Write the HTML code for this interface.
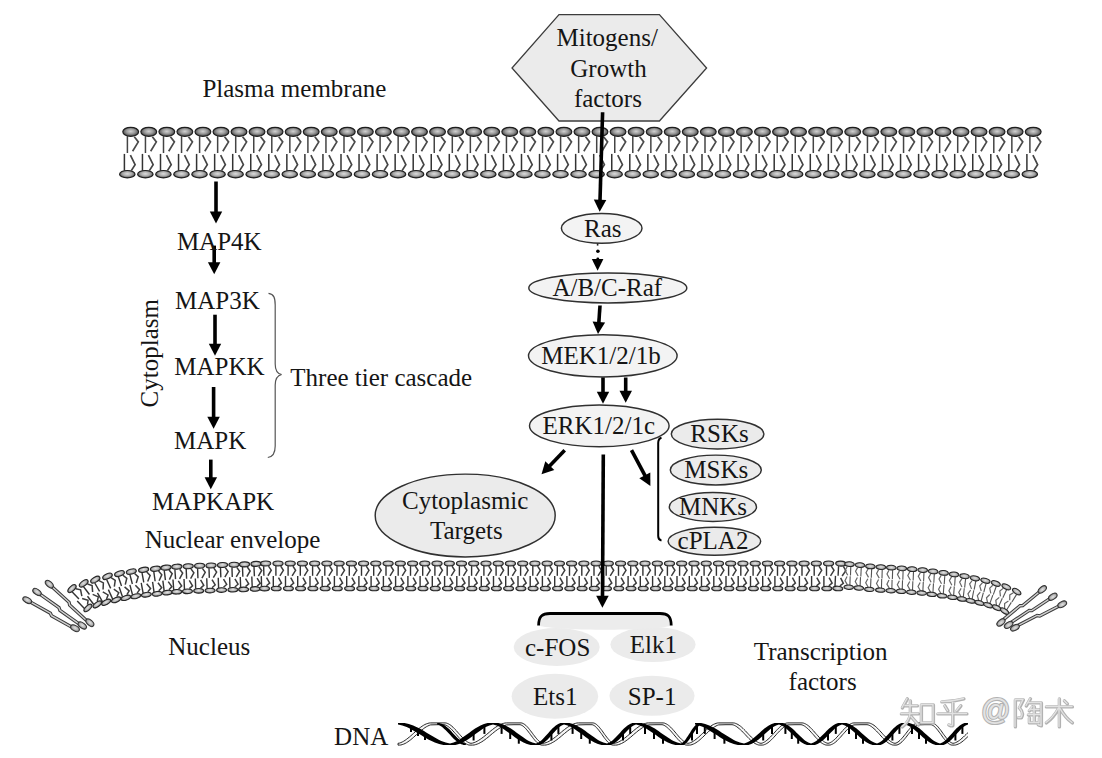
<!DOCTYPE html>
<html><head><meta charset="utf-8"><style>
html,body{margin:0;padding:0;background:#fff;width:1102px;height:758px;overflow:hidden}
svg{display:block}
</style></head><body>
<svg width="1102" height="758" viewBox="0 0 1102 758">
<rect width="1102" height="758" fill="#fff"/>
<defs>
<radialGradient id="hg" cx="50%" cy="45%" r="55%"><stop offset="0" stop-color="#d2d2d2"/><stop offset="0.5" stop-color="#9a9a9a"/><stop offset="0.85" stop-color="#5c5c5c"/><stop offset="1" stop-color="#3a3a3a"/></radialGradient><radialGradient id="hgb" cx="50%" cy="45%" r="55%"><stop offset="0" stop-color="#dedede"/><stop offset="0.55" stop-color="#a8a8a8"/><stop offset="1" stop-color="#4a4a4a"/></radialGradient>
<radialGradient id="hg2" cx="50%" cy="45%" r="55%"><stop offset="0" stop-color="#e4e4e4"/><stop offset="0.6" stop-color="#b4b4b4"/><stop offset="1" stop-color="#5a5a5a"/></radialGradient>
<g id="pl"><line x1="-3.3" y1="4.3" x2="-3.3" y2="21.2" stroke="#444" stroke-width="1.5"/><polyline points="3.6,4.9 7.6,10.1 1.9,19.5" fill="none" stroke="#4a4a4a" stroke-width="1.7"/><line x1="-6.3" y1="22.1" x2="-6.3" y2="38.8" stroke="#333" stroke-width="1.5"/><polyline points="-0.3,23.3 4.4,32.8 0.6,38.8" fill="none" stroke="#444" stroke-width="1.7"/><ellipse cx="0" cy="0" rx="7.9" ry="4.5" fill="url(#hg)" stroke="#1e1e1e" stroke-width="1.2"/><ellipse cx="-3.4" cy="42.4" rx="7.7" ry="3.7" fill="url(#hgb)" stroke="#1e1e1e" stroke-width="1.2"/></g>
<g id="nl"><line x1="-2.1" y1="2.6" x2="-2.1" y2="12.3" stroke="#333" stroke-width="1.4"/><polyline points="2.7,2.7 5.4,6.8 1.9,12.3" fill="none" stroke="#3c3c3c" stroke-width="1.5"/><line x1="-4.7" y1="12.5" x2="-4.7" y2="22.9" stroke="#333" stroke-width="1.4"/><polyline points="0.5,14.2 3.5,19.6 0.2,22.3" fill="none" stroke="#3c3c3c" stroke-width="1.5"/><ellipse cx="0" cy="0" rx="5.1" ry="2.5" fill="url(#hg2)" stroke="#262626" stroke-width="1.1"/><ellipse cx="-1.8" cy="25" rx="5.0" ry="2.3" fill="url(#hg2)" stroke="#262626" stroke-width="1.1"/></g>
<g id="nr"><line x1="1.5" y1="2.6" x2="1.5" y2="12.3" stroke="#555" stroke-width="1.2"/><polyline points="-2.5,2.9 -4.5,7 -1.5,12" fill="none" stroke="#666" stroke-width="1.3"/><line x1="1.2" y1="13" x2="1.2" y2="22.8" stroke="#555" stroke-width="1.2"/><polyline points="-2.2,13.5 -4.3,18 -1.5,22.5" fill="none" stroke="#666" stroke-width="1.3"/><ellipse cx="0" cy="0" rx="5.2" ry="2.6" fill="url(#hg2)" stroke="#262626" stroke-width="1.1"/><ellipse cx="0" cy="25" rx="5.2" ry="2.4" fill="url(#hg2)" stroke="#262626" stroke-width="1.1"/></g>
</defs>
<use href="#pl" x="130.70" y="131.8"/>
<use href="#pl" x="148.75" y="131.8"/>
<use href="#pl" x="166.80" y="131.8"/>
<use href="#pl" x="184.85" y="131.8"/>
<use href="#pl" x="202.90" y="131.8"/>
<use href="#pl" x="220.95" y="131.8"/>
<use href="#pl" x="239.00" y="131.8"/>
<use href="#pl" x="257.05" y="131.8"/>
<use href="#pl" x="275.10" y="131.8"/>
<use href="#pl" x="293.15" y="131.8"/>
<use href="#pl" x="311.20" y="131.8"/>
<use href="#pl" x="329.25" y="131.8"/>
<use href="#pl" x="347.30" y="131.8"/>
<use href="#pl" x="365.35" y="131.8"/>
<use href="#pl" x="383.40" y="131.8"/>
<use href="#pl" x="401.45" y="131.8"/>
<use href="#pl" x="419.50" y="131.8"/>
<use href="#pl" x="437.55" y="131.8"/>
<use href="#pl" x="455.60" y="131.8"/>
<use href="#pl" x="473.65" y="131.8"/>
<use href="#pl" x="491.70" y="131.8"/>
<use href="#pl" x="509.75" y="131.8"/>
<use href="#pl" x="527.80" y="131.8"/>
<use href="#pl" x="545.85" y="131.8"/>
<use href="#pl" x="563.90" y="131.8"/>
<use href="#pl" x="581.95" y="131.8"/>
<use href="#pl" x="600.00" y="131.8"/>
<use href="#pl" x="618.05" y="131.8"/>
<use href="#pl" x="636.10" y="131.8"/>
<use href="#pl" x="654.15" y="131.8"/>
<use href="#pl" x="672.20" y="131.8"/>
<use href="#pl" x="690.25" y="131.8"/>
<use href="#pl" x="708.30" y="131.8"/>
<use href="#pl" x="726.35" y="131.8"/>
<use href="#pl" x="744.40" y="131.8"/>
<use href="#pl" x="762.45" y="131.8"/>
<use href="#pl" x="780.50" y="131.8"/>
<use href="#pl" x="798.55" y="131.8"/>
<use href="#pl" x="816.60" y="131.8"/>
<use href="#pl" x="834.65" y="131.8"/>
<use href="#pl" x="852.70" y="131.8"/>
<use href="#pl" x="870.75" y="131.8"/>
<use href="#pl" x="888.80" y="131.8"/>
<use href="#pl" x="906.85" y="131.8"/>
<use href="#pl" x="924.90" y="131.8"/>
<use href="#pl" x="942.95" y="131.8"/>
<use href="#pl" x="961.00" y="131.8"/>
<use href="#pl" x="979.05" y="131.8"/>
<use href="#pl" x="997.10" y="131.8"/>
<use href="#pl" x="1015.15" y="131.8"/>
<use href="#pl" x="1033.20" y="131.8"/>
<use href="#nl" transform="translate(72.0,588.6) rotate(-43.6) scale(1.0)"/>
<use href="#nl" transform="translate(83.7,583.4) rotate(-37.1) scale(1.0)"/>
<use href="#nl" transform="translate(95.3,579.7) rotate(-29.8) scale(1.0)"/>
<use href="#nl" transform="translate(107.5,576.3) rotate(-24.4) scale(1.0)"/>
<use href="#nl" transform="translate(119.5,573.6) rotate(-18.9) scale(1.0)"/>
<use href="#nl" transform="translate(131.3,571.6) rotate(-14.6) scale(1.0)"/>
<use href="#nl" transform="translate(143.6,569.8) rotate(-10.4) scale(1.0)"/>
<use href="#nl" transform="translate(155.5,568.8) rotate(-8.0) scale(1.0)"/>
<use href="#nl" transform="translate(166.0,567.6) rotate(-7.0) scale(1.0)"/>
<use href="#nl" transform="translate(176.8,566.7) rotate(-4.0) scale(1.0)"/>
<use href="#nl" transform="translate(188.2,566.3) rotate(-2.4) scale(1.0)"/>
<use href="#nl" transform="translate(199.6,565.8) rotate(-2.0) scale(1.0)"/>
<use href="#nl" transform="translate(211.0,565.5) rotate(-2.0) scale(1.0)"/>
<use href="#nl" transform="translate(222.5,565.0) rotate(-2.0) scale(1.0)"/>
<use href="#nl" transform="translate(234.0,564.7) rotate(-1.6) scale(1.0)"/>
<use href="#nl" transform="translate(244.5,564.4) rotate(-2.1) scale(1.0)"/>
<use href="#nl" transform="translate(256.0,563.9) rotate(-2.3) scale(1.0)"/>
<use href="#nl" transform="translate(265.7,563.5) rotate(-1.4) scale(1.0)"/>
<use href="#nl" transform="translate(278.0,563.5) rotate(0.0) scale(1.0)"/>
<use href="#nl" transform="translate(290.2,563.5) rotate(0.0) scale(1.0)"/>
<use href="#nl" transform="translate(302.4,563.5) rotate(0.0) scale(1.0)"/>
<use href="#nl" transform="translate(314.7,563.5) rotate(0.0) scale(1.0)"/>
<use href="#nl" transform="translate(326.9,563.5) rotate(0.0) scale(1.0)"/>
<use href="#nl" transform="translate(339.1,563.5) rotate(0.0) scale(1.0)"/>
<use href="#nl" transform="translate(351.4,563.5) rotate(0.0) scale(1.0)"/>
<use href="#nl" transform="translate(363.6,563.5) rotate(0.0) scale(1.0)"/>
<use href="#nl" transform="translate(375.8,563.5) rotate(0.0) scale(1.0)"/>
<use href="#nl" transform="translate(388.1,563.5) rotate(0.0) scale(1.0)"/>
<use href="#nl" transform="translate(400.3,563.5) rotate(0.0) scale(1.0)"/>
<use href="#nl" transform="translate(412.6,563.5) rotate(0.0) scale(1.0)"/>
<use href="#nl" transform="translate(424.8,563.5) rotate(0.0) scale(1.0)"/>
<use href="#nl" transform="translate(437.0,563.5) rotate(0.0) scale(1.0)"/>
<use href="#nl" transform="translate(449.3,563.5) rotate(0.0) scale(1.0)"/>
<use href="#nl" transform="translate(461.5,563.5) rotate(0.0) scale(1.0)"/>
<use href="#nl" transform="translate(473.7,563.5) rotate(0.0) scale(1.0)"/>
<use href="#nl" transform="translate(486.0,563.5) rotate(0.0) scale(1.0)"/>
<use href="#nl" transform="translate(498.2,563.5) rotate(0.0) scale(1.0)"/>
<use href="#nl" transform="translate(510.4,563.5) rotate(0.0) scale(1.0)"/>
<use href="#nl" transform="translate(522.7,563.5) rotate(0.0) scale(1.0)"/>
<use href="#nl" transform="translate(534.9,563.5) rotate(0.0) scale(1.0)"/>
<use href="#nl" transform="translate(547.1,563.5) rotate(0.0) scale(1.0)"/>
<use href="#nl" transform="translate(559.4,563.5) rotate(0.0) scale(1.0)"/>
<use href="#nl" transform="translate(571.6,563.5) rotate(0.0) scale(1.0)"/>
<use href="#nl" transform="translate(583.9,563.5) rotate(0.0) scale(1.0)"/>
<use href="#nl" transform="translate(596.1,563.5) rotate(0.0) scale(1.0)"/>
<use href="#nl" transform="translate(608.3,563.5) rotate(0.0) scale(1.0)"/>
<use href="#nl" transform="translate(620.6,563.5) rotate(0.0) scale(1.0)"/>
<use href="#nl" transform="translate(632.8,563.5) rotate(0.0) scale(1.0)"/>
<use href="#nl" transform="translate(645.0,563.5) rotate(0.0) scale(1.0)"/>
<use href="#nl" transform="translate(657.3,563.5) rotate(0.0) scale(1.0)"/>
<use href="#nl" transform="translate(669.5,563.5) rotate(0.0) scale(1.0)"/>
<use href="#nl" transform="translate(681.7,563.5) rotate(0.0) scale(1.0)"/>
<use href="#nl" transform="translate(694.0,563.5) rotate(0.0) scale(1.0)"/>
<use href="#nl" transform="translate(706.2,563.5) rotate(0.0) scale(1.0)"/>
<use href="#nl" transform="translate(718.5,563.5) rotate(0.0) scale(1.0)"/>
<use href="#nl" transform="translate(730.7,563.5) rotate(0.0) scale(1.0)"/>
<use href="#nl" transform="translate(742.9,563.5) rotate(0.0) scale(1.0)"/>
<use href="#nl" transform="translate(755.2,563.5) rotate(0.0) scale(1.0)"/>
<use href="#nl" transform="translate(767.4,563.5) rotate(0.0) scale(1.0)"/>
<use href="#nl" transform="translate(779.6,563.5) rotate(0.0) scale(1.0)"/>
<use href="#nl" transform="translate(791.9,563.5) rotate(0.0) scale(1.0)"/>
<use href="#nl" transform="translate(804.1,563.5) rotate(0.0) scale(1.0)"/>
<use href="#nl" transform="translate(816.3,563.5) rotate(0.0) scale(1.0)"/>
<use href="#nl" transform="translate(828.6,563.5) rotate(0.0) scale(1.0)"/>
<use href="#nl" transform="translate(840.8,563.6) rotate(2.8) scale(1.0)"/>
<use href="#nr" transform="translate(849.5,564.2) rotate(2.0) scale(0.92)"/>
<use href="#nr" transform="translate(860.0,565.1) rotate(2.8) scale(0.92)"/>
<use href="#nr" transform="translate(870.4,566.4) rotate(2.6) scale(0.92)"/>
<use href="#nr" transform="translate(880.9,567.1) rotate(1.5) scale(0.92)"/>
<use href="#nr" transform="translate(891.3,567.7) rotate(1.5) scale(0.92)"/>
<use href="#nr" transform="translate(901.8,568.3) rotate(1.8) scale(0.92)"/>
<use href="#nr" transform="translate(912.2,569.2) rotate(2.2) scale(0.92)"/>
<use href="#nr" transform="translate(922.7,570.1) rotate(2.5) scale(0.92)"/>
<use href="#nr" transform="translate(933.1,571.4) rotate(3.4) scale(0.92)"/>
<use href="#nr" transform="translate(943.6,572.9) rotate(3.7) scale(0.92)"/>
<use href="#nr" transform="translate(954.0,574.4) rotate(3.9) scale(0.92)"/>
<use href="#nr" transform="translate(964.5,576.2) rotate(6.3) scale(0.92)"/>
<use href="#nr" transform="translate(974.9,578.3) rotate(10.6) scale(0.92)"/>
<use href="#nr" transform="translate(985.4,580.7) rotate(14.9) scale(0.92)"/>
<use href="#nr" transform="translate(995.8,583.5) rotate(19.6) scale(0.92)"/>
<use href="#nr" transform="translate(1006.3,586.9) rotate(24.6) scale(0.92)"/>
<use href="#nr" transform="translate(1016.7,591.6) rotate(31.8) scale(0.92)"/>
<g transform="translate(27.2,600.2) rotate(29.4)"><path d="M4,0 L26.6,0 L28.8,1.6 L51.4,1.6" fill="none" stroke="#3a3a3a" stroke-width="3.4"/><path d="M4,0 L26.6,0 L28.8,1.6 L51.4,1.6" fill="none" stroke="#d0d0d0" stroke-width="1.4"/><ellipse cx="0" cy="0" rx="4.8" ry="2.7" fill="url(#hg2)" stroke="#333" stroke-width="1"/><ellipse cx="55.4" cy="1" rx="4.8" ry="2.7" fill="url(#hg2)" stroke="#333" stroke-width="1"/></g>
<g transform="translate(37,592) rotate(35.5)"><path d="M4,0 L27.0,0 L29.3,1.6 L52.3,1.6" fill="none" stroke="#3a3a3a" stroke-width="3.4"/><path d="M4,0 L27.0,0 L29.3,1.6 L52.3,1.6" fill="none" stroke="#d0d0d0" stroke-width="1.4"/><ellipse cx="0" cy="0" rx="4.8" ry="2.7" fill="url(#hg2)" stroke="#333" stroke-width="1"/><ellipse cx="56.3" cy="1" rx="4.8" ry="2.7" fill="url(#hg2)" stroke="#333" stroke-width="1"/></g>
<g transform="translate(49.3,584.2) rotate(42.5)"><path d="M4,0 L26.8,0 L29.1,1.6 L51.9,1.6" fill="none" stroke="#3a3a3a" stroke-width="3.4"/><path d="M4,0 L26.8,0 L29.1,1.6 L51.9,1.6" fill="none" stroke="#d0d0d0" stroke-width="1.4"/><ellipse cx="0" cy="0" rx="4.8" ry="2.7" fill="url(#hg2)" stroke="#333" stroke-width="1"/><ellipse cx="55.9" cy="1" rx="4.8" ry="2.7" fill="url(#hg2)" stroke="#333" stroke-width="1"/></g>
<g transform="translate(1042.3,589.4) rotate(140.3)"><path d="M4,0 L25.4,0 L27.5,1.6 L48.9,1.6" fill="none" stroke="#3a3a3a" stroke-width="3.4"/><path d="M4,0 L25.4,0 L27.5,1.6 L48.9,1.6" fill="none" stroke="#d0d0d0" stroke-width="1.4"/><ellipse cx="0" cy="0" rx="4.8" ry="2.7" fill="url(#hg2)" stroke="#333" stroke-width="1"/><ellipse cx="52.9" cy="1" rx="4.8" ry="2.7" fill="url(#hg2)" stroke="#333" stroke-width="1"/></g>
<g transform="translate(1052.8,596.7) rotate(146.4)"><path d="M4,0 L25.1,0 L27.2,1.6 L48.4,1.6" fill="none" stroke="#3a3a3a" stroke-width="3.4"/><path d="M4,0 L25.1,0 L27.2,1.6 L48.4,1.6" fill="none" stroke="#d0d0d0" stroke-width="1.4"/><ellipse cx="0" cy="0" rx="4.8" ry="2.7" fill="url(#hg2)" stroke="#333" stroke-width="1"/><ellipse cx="52.4" cy="1" rx="4.8" ry="2.7" fill="url(#hg2)" stroke="#333" stroke-width="1"/></g>
<g transform="translate(1062.2,604.3) rotate(152.6)"><path d="M4,0 L25.3,0 L27.4,1.6 L48.7,1.6" fill="none" stroke="#3a3a3a" stroke-width="3.4"/><path d="M4,0 L25.3,0 L27.4,1.6 L48.7,1.6" fill="none" stroke="#d0d0d0" stroke-width="1.4"/><ellipse cx="0" cy="0" rx="4.8" ry="2.7" fill="url(#hg2)" stroke="#333" stroke-width="1"/><ellipse cx="52.7" cy="1" rx="4.8" ry="2.7" fill="url(#hg2)" stroke="#333" stroke-width="1"/></g>
<polygon points="559,14.6 659.4,14.6 706.6,68 659.4,121 559,121 512,68" fill="#ebebeb" stroke="#3c3c3c" stroke-width="1.3"/>
<ellipse cx="601.7" cy="228.3" rx="40.3" ry="14.9" fill="#f3f3f3" stroke="#303030" stroke-width="1.45"/>
<ellipse cx="607.8" cy="287.9" rx="79" ry="15" fill="#f3f3f3" stroke="#303030" stroke-width="1.45"/>
<ellipse cx="602.8" cy="355.8" rx="74.3" ry="21.1" fill="#f3f3f3" stroke="#303030" stroke-width="1.45"/>
<ellipse cx="599.3" cy="425.8" rx="69.8" ry="20.9" fill="#f3f3f3" stroke="#303030" stroke-width="1.45"/>
<ellipse cx="717.6" cy="434.1" rx="46.3" ry="14.9" fill="#ebebeb" stroke="#303030" stroke-width="1.45"/>
<ellipse cx="715.8" cy="470" rx="45.5" ry="14.9" fill="#ebebeb" stroke="#303030" stroke-width="1.45"/>
<ellipse cx="712.9" cy="506.9" rx="43.6" ry="14.5" fill="#ebebeb" stroke="#303030" stroke-width="1.45"/>
<ellipse cx="714.4" cy="541.3" rx="46.3" ry="14.0" fill="#ebebeb" stroke="#303030" stroke-width="1.45"/>
<ellipse cx="465.2" cy="515.5" rx="90" ry="41.4" fill="#ebebeb" stroke="#303030" stroke-width="1.45"/>
<ellipse cx="556.7" cy="647" rx="43" ry="19" fill="#ebebeb" />
<ellipse cx="653" cy="644.5" rx="42.6" ry="17.5" fill="#ebebeb" />
<ellipse cx="554.9" cy="696.3" rx="43.3" ry="22.5" fill="#ebebeb" />
<ellipse cx="652" cy="695.8" rx="42.6" ry="20" fill="#ebebeb" />
<line x1="602.6" y1="112.2" x2="600.0" y2="200.7" stroke="#000" stroke-width="3.6"/>
<polygon points="599.7,211.7 593.8,199.5 606.3,199.9" fill="#000"/>
<line x1="216.0" y1="181.5" x2="216.0" y2="212.4" stroke="#000" stroke-width="3.6"/>
<polygon points="216.0,223.4 209.8,211.4 222.2,211.4" fill="#000"/>
<line x1="214.2" y1="245.6" x2="214.2" y2="263.2" stroke="#000" stroke-width="3.6"/>
<polygon points="214.2,274.2 207.9,262.2 220.4,262.2" fill="#000"/>
<line x1="215.0" y1="314.7" x2="215.0" y2="344.7" stroke="#000" stroke-width="3.6"/>
<polygon points="215.0,355.7 208.8,343.7 221.2,343.7" fill="#000"/>
<line x1="213.6" y1="387.0" x2="213.6" y2="417.7" stroke="#000" stroke-width="3.6"/>
<polygon points="213.6,428.7 207.3,416.7 219.8,416.7" fill="#000"/>
<line x1="210.8" y1="459.6" x2="210.8" y2="478.3" stroke="#000" stroke-width="3.6"/>
<polygon points="210.8,489.3 204.6,477.3 217.1,477.3" fill="#000"/>
<circle cx="597.9" cy="251.3" r="1.8" fill="#000"/><circle cx="597.8" cy="258.8" r="1.4" fill="#000"/><line x1="597.6" y1="243.4" x2="597.6" y2="245.6" stroke="#222" stroke-width="1.6"/>
<polygon points="597.6,270.8 591.8,259 603.4,259" fill="#000"/>
<line x1="600.0" y1="305.5" x2="598.8" y2="323.0" stroke="#000" stroke-width="3.6"/>
<polygon points="598.0,334.0 592.6,321.6 605.1,322.5" fill="#000"/>
<line x1="603.0" y1="377.5" x2="603.0" y2="392.8" stroke="#000" stroke-width="3.6"/>
<polygon points="603.0,403.8 596.8,391.8 609.2,391.8" fill="#000"/>
<line x1="625.7" y1="377.5" x2="625.7" y2="391.8" stroke="#000" stroke-width="3.6"/>
<polygon points="625.7,402.8 619.5,390.8 632.0,390.8" fill="#000"/>
<line x1="564.7" y1="450.2" x2="549.1" y2="466.4" stroke="#000" stroke-width="3.6"/>
<polygon points="541.5,474.3 545.3,461.3 554.3,470.0" fill="#000"/>
<line x1="631.5" y1="450.2" x2="645.3" y2="476.2" stroke="#000" stroke-width="3.6"/>
<polygon points="650.4,485.9 639.3,478.2 650.3,472.4" fill="#000"/>
<line x1="603.3" y1="454.5" x2="602.5" y2="596.8" stroke="#000" stroke-width="3.6"/>
<polygon points="602.4,607.8 596.2,595.8 608.7,595.8" fill="#000"/>
<path d="M268.5,293.4 C274,294.2 275.2,298 275.2,305 L275.2,364 C275.2,371 277.5,373.8 281.6,374.5 C277.5,375.5 275.2,378 275.2,385 L275.2,446 C275.2,453 273,456.8 267.8,457.5" fill="none" stroke="#555" stroke-width="1.2"/>
<path d="M661.5,437.8 C659,438.5 658.2,440 658.2,443 L658.2,536 C658.2,539 659,540 661.5,540.6" fill="none" stroke="#000" stroke-width="2"/>
<path d="M540,626 C540,617 543,614.5 551,614.5 L659,614.5 C667,614.5 670,617 670,626 C645,631 565,631 540,626 Z" fill="#ececec"/>
<path d="M538.6,625.5 C538.6,616.5 542,613.5 550,613.5 L660,613.5 C668,613.5 671.2,616.5 671.2,625.5" fill="none" stroke="#000" stroke-width="2.8"/>
<clipPath id="dclip"><rect x="396" y="700" width="572" height="55"/></clipPath>
<g clip-path="url(#dclip)">
<path d="M398.0,743.3 L399.4,743.1 L400.8,742.6 L402.2,742.0 L403.7,741.2 L405.1,740.3 L406.5,739.3 L407.9,738.2 L409.3,737.1 L410.8,735.8 L412.2,734.6 L413.6,733.3 L415.0,732.0 L416.4,730.7 L417.8,729.5 L419.2,728.3 L420.7,727.2 L422.1,726.2 L423.5,725.3 L424.9,724.5 L426.3,723.9 L427.8,723.4 L429.2,723.0 L430.6,722.9 L438.0,722.9 L439.0,722.9 L440.0,722.9 L441.0,722.9 L442.0,722.9 L443.0,722.9 L444.0,722.9 L445.1,722.9 L446.2,723.0 L447.4,723.4 L448.5,723.9 L449.6,724.5 L450.8,725.3 L451.9,726.2 L453.0,727.2 L454.1,728.3 L455.2,729.5 L456.4,730.7 L457.5,732.0 L458.6,733.3 L459.8,734.6 L460.9,735.8 L462.0,737.1 L463.1,738.2 L464.2,739.3 L465.4,740.3 L466.5,741.2 L467.6,742.0 L468.8,742.6 L469.9,743.1 L471.0,743.3 L472.5,743.1 L474.1,742.6 L475.6,742.0 L477.2,741.2 L478.7,740.3 L480.2,739.3 L481.8,738.2 L483.3,737.1 L484.9,735.8 L486.4,734.6 L488.0,733.3 L489.5,732.0 L491.0,730.7 L492.6,729.5 L494.1,728.3 L495.7,727.2 L497.2,726.2 L498.8,725.3 L500.3,724.5 L501.8,723.9 L503.4,723.4 L504.9,723.0 L506.5,722.9 L514.0,722.9 L515.0,722.9 L516.0,722.9 L517.0,722.9 L518.0,722.9 L519.0,722.9 L520.0,722.9 L521.0,722.9 L521.9,723.0 L522.9,723.4 L523.8,723.9 L524.8,724.5 L525.8,725.3 L526.7,726.2 L527.7,727.2 L528.6,728.3 L529.6,729.5 L530.5,730.7 L531.5,732.0 L532.5,733.3 L533.4,734.6 L534.4,735.8 L535.3,737.1 L536.3,738.2 L537.2,739.3 L538.2,740.3 L539.2,741.2 L540.1,742.0 L541.1,742.6 L542.0,743.1 L543.0,743.3 L544.5,743.1 L546.1,742.6 L547.6,742.0 L549.2,741.2 L550.7,740.3 L552.2,739.3 L553.8,738.2 L555.3,737.1 L556.9,735.8 L558.4,734.6 L560.0,733.3 L561.5,732.0 L563.0,730.7 L564.6,729.5 L566.1,728.3 L567.7,727.2 L569.2,726.2 L570.8,725.3 L572.3,724.5 L573.8,723.9 L575.4,723.4 L576.9,723.0 L578.5,722.9 L586.0,722.9 L587.0,722.9 L588.0,722.9 L589.0,722.9 L590.0,722.9 L591.0,722.9 L592.0,722.9 L592.9,722.9 L593.8,723.0 L594.8,723.4 L595.7,723.9 L596.6,724.5 L597.5,725.3 L598.4,726.2 L599.3,727.2 L600.2,728.3 L601.2,729.5 L602.1,730.7 L603.0,732.0 L603.9,733.3 L604.8,734.6 L605.8,735.8 L606.7,737.1 L607.6,738.2 L608.5,739.3 L609.4,740.3 L610.3,741.2 L611.2,742.0 L612.2,742.6 L613.1,743.1 L614.0,743.3 L615.5,743.1 L617.0,742.6 L618.5,742.0 L620.0,741.2 L621.5,740.3 L623.0,739.3 L624.5,738.2 L626.0,737.1 L627.5,735.8 L629.0,734.6 L630.5,733.3 L632.0,732.0 L633.5,730.7 L635.0,729.5 L636.5,728.3 L638.0,727.2 L639.5,726.2 L641.0,725.3 L642.5,724.5 L644.0,723.9 L645.5,723.4 L647.0,723.0 L648.5,722.9 L656.0,722.9 L657.0,722.9 L658.0,722.9 L659.0,722.9 L660.0,722.9 L661.0,722.9 L662.0,722.9 L663.1,722.9 L664.2,723.0 L665.2,723.4 L666.3,723.9 L667.4,724.5 L668.5,725.3 L669.6,726.2 L670.7,727.2 L671.8,728.3 L672.8,729.5 L673.9,730.7 L675.0,732.0 L676.1,733.3 L677.2,734.6 L678.2,735.8 L679.3,737.1 L680.4,738.2 L681.5,739.3 L682.6,740.3 L683.7,741.2 L684.8,742.0 L685.8,742.6 L686.9,743.1 L688.0,743.3 L689.3,743.1 L690.7,742.6 L692.0,742.0 L693.3,741.2 L694.7,740.3 L696.0,739.3 L697.3,738.2 L698.7,737.1 L700.0,735.8 L701.3,734.6 L702.7,733.3 L704.0,732.0 L705.3,730.7 L706.7,729.5 L708.0,728.3 L709.3,727.2 L710.7,726.2 L712.0,725.3 L713.3,724.5 L714.7,723.9 L716.0,723.4 L717.3,723.0 L718.7,722.9 L726.0,722.9 L727.0,722.9 L728.0,722.9 L729.0,722.9 L730.0,722.9 L731.0,722.9 L732.0,722.9 L733.2,722.9 L734.4,723.0 L735.6,723.4 L736.8,723.9 L738.0,724.5 L739.2,725.3 L740.5,726.2 L741.7,727.2 L742.9,728.3 L744.1,729.5 L745.3,730.7 L746.5,732.0 L747.7,733.3 L748.9,734.6 L750.1,735.8 L751.3,737.1 L752.5,738.2 L753.8,739.3 L755.0,740.3 L756.2,741.2 L757.4,742.0 L758.6,742.6 L759.8,743.1 L761.0,743.3 L762.2,743.1 L763.3,742.6 L764.5,742.0 L765.7,741.2 L766.8,740.3 L768.0,739.3 L769.2,738.2 L770.3,737.1 L771.5,735.8 L772.7,734.6 L773.8,733.3 L775.0,732.0 L776.2,730.7 L777.3,729.5 L778.5,728.3 L779.7,727.2 L780.8,726.2 L782.0,725.3 L783.2,724.5 L784.3,723.9 L785.5,723.4 L786.7,723.0 L787.8,722.9 L795.0,722.9 L796.0,722.9 L797.0,722.9 L798.0,722.9 L799.0,722.9 L800.0,722.9 L801.0,722.9 L802.1,722.9 L803.2,723.0 L804.4,723.4 L805.5,723.9 L806.6,724.5 L807.8,725.3 L808.9,726.2 L810.0,727.2 L811.1,728.3 L812.2,729.5 L813.4,730.7 L814.5,732.0 L815.6,733.3 L816.8,734.6 L817.9,735.8 L819.0,737.1 L820.1,738.2 L821.2,739.3 L822.4,740.3 L823.5,741.2 L824.6,742.0 L825.8,742.6 L826.9,743.1 L828.0,743.3 L829.1,743.1 L830.2,742.6 L831.4,742.0 L832.5,741.2 L833.6,740.3 L834.8,739.3 L835.9,738.2 L837.0,737.1 L838.1,735.8 L839.2,734.6 L840.4,733.3 L841.5,732.0 L842.6,730.7 L843.8,729.5 L844.9,728.3 L846.0,727.2 L847.1,726.2 L848.2,725.3 L849.4,724.5 L850.5,723.9 L851.6,723.4 L852.8,723.0 L853.9,722.9 L861.0,722.9 L862.0,722.9 L863.0,722.9 L864.0,722.9 L865.0,722.9 L866.0,722.9 L867.0,722.9 L868.2,722.9 L869.3,723.0 L870.5,723.4 L871.7,723.9 L872.8,724.5 L874.0,725.3 L875.2,726.2 L876.3,727.2 L877.5,728.3 L878.7,729.5 L879.8,730.7 L881.0,732.0 L882.2,733.3 L883.3,734.6 L884.5,735.8 L885.7,737.1 L886.8,738.2 L888.0,739.3 L889.2,740.3 L890.3,741.2 L891.5,742.0 L892.7,742.6 L893.8,743.1 L895.0,743.3 L896.0,743.1 L897.0,742.6 L898.0,742.0 L899.0,741.2 L900.0,740.3 L901.0,739.3 L902.0,738.2 L903.0,737.1 L904.0,735.8 L905.0,734.6 L906.0,733.3 L907.0,732.0 L908.0,730.7 L909.0,729.5 L910.0,728.3 L911.0,727.2 L912.0,726.2 L913.0,725.3 L914.0,724.5 L915.0,723.9 L916.0,723.4 L917.0,723.0 L918.0,722.9 L925.0,722.9 L926.0,722.9 L927.0,722.9 L928.0,722.9 L929.0,722.9 L930.0,722.9 L931.0,722.9 L931.9,722.9 L932.8,723.0 L933.8,723.4 L934.7,723.9 L935.6,724.5 L936.5,725.3 L937.4,726.2 L938.3,727.2 L939.2,728.3 L940.2,729.5 L941.1,730.7 L942.0,732.0 L942.9,733.3 L943.8,734.6 L944.8,735.8 L945.7,737.1 L946.6,738.2 L947.5,739.3 L948.4,740.3 L949.3,741.2 L950.2,742.0 L951.2,742.6 L952.1,743.1 L953.0,743.3 L954.3,743.1 L955.6,742.6 L956.9,742.0 L958.2,741.2 L959.5,740.3 L960.8,739.3 L962.0,738.2 L963.3,737.1 L964.6,735.8 L965.9,734.6 L967.2,733.3 L968.5,732.0 L969.8,730.7 L971.1,729.5 L972.4,728.3 L973.7,727.2 L975.0,726.2 L976.2,725.3 L977.5,724.5 L978.8,723.9 L980.1,723.4 L981.4,723.0 L982.7,722.9 L990.0,722.9 L990.0,724.7 L982.7,724.9 L981.4,725.4 L980.1,726.0 L978.8,726.8 L977.5,727.7 L976.2,728.7 L975.0,729.8 L973.7,730.9 L972.4,732.2 L971.1,733.4 L969.8,734.7 L968.5,736.0 L967.2,737.3 L965.9,738.5 L964.6,739.7 L963.3,740.8 L962.0,741.8 L960.8,742.7 L959.5,743.5 L958.2,744.1 L956.9,744.6 L955.6,745.0 L954.3,745.1 L953.0,745.1 L952.1,745.1 L951.2,745.0 L950.2,744.6 L949.3,744.1 L948.4,743.5 L947.5,742.7 L946.6,741.8 L945.7,740.8 L944.8,739.7 L943.8,738.5 L942.9,737.3 L942.0,736.0 L941.1,734.7 L940.2,733.4 L939.2,732.2 L938.3,730.9 L937.4,729.8 L936.5,728.7 L935.6,727.7 L934.7,726.8 L933.8,726.0 L932.8,725.4 L931.9,724.9 L931.0,724.7 L930.0,724.7 L929.0,724.7 L928.0,724.7 L927.0,724.7 L926.0,724.7 L925.0,724.7 L918.0,724.9 L917.0,725.4 L916.0,726.0 L915.0,726.8 L914.0,727.7 L913.0,728.7 L912.0,729.8 L911.0,730.9 L910.0,732.2 L909.0,733.4 L908.0,734.7 L907.0,736.0 L906.0,737.3 L905.0,738.5 L904.0,739.7 L903.0,740.8 L902.0,741.8 L901.0,742.7 L900.0,743.5 L899.0,744.1 L898.0,744.6 L897.0,745.0 L896.0,745.1 L895.0,745.1 L893.8,745.1 L892.7,745.0 L891.5,744.6 L890.3,744.1 L889.2,743.5 L888.0,742.7 L886.8,741.8 L885.7,740.8 L884.5,739.7 L883.3,738.5 L882.2,737.3 L881.0,736.0 L879.8,734.7 L878.7,733.4 L877.5,732.2 L876.3,730.9 L875.2,729.8 L874.0,728.7 L872.8,727.7 L871.7,726.8 L870.5,726.0 L869.3,725.4 L868.2,724.9 L867.0,724.7 L866.0,724.7 L865.0,724.7 L864.0,724.7 L863.0,724.7 L862.0,724.7 L861.0,724.7 L853.9,724.9 L852.8,725.4 L851.6,726.0 L850.5,726.8 L849.4,727.7 L848.2,728.7 L847.1,729.8 L846.0,730.9 L844.9,732.2 L843.8,733.4 L842.6,734.7 L841.5,736.0 L840.4,737.3 L839.2,738.5 L838.1,739.7 L837.0,740.8 L835.9,741.8 L834.8,742.7 L833.6,743.5 L832.5,744.1 L831.4,744.6 L830.2,745.0 L829.1,745.1 L828.0,745.1 L826.9,745.1 L825.8,745.0 L824.6,744.6 L823.5,744.1 L822.4,743.5 L821.2,742.7 L820.1,741.8 L819.0,740.8 L817.9,739.7 L816.8,738.5 L815.6,737.3 L814.5,736.0 L813.4,734.7 L812.2,733.4 L811.1,732.2 L810.0,730.9 L808.9,729.8 L807.8,728.7 L806.6,727.7 L805.5,726.8 L804.4,726.0 L803.2,725.4 L802.1,724.9 L801.0,724.7 L800.0,724.7 L799.0,724.7 L798.0,724.7 L797.0,724.7 L796.0,724.7 L795.0,724.7 L787.8,724.9 L786.7,725.4 L785.5,726.0 L784.3,726.8 L783.2,727.7 L782.0,728.7 L780.8,729.8 L779.7,730.9 L778.5,732.2 L777.3,733.4 L776.2,734.7 L775.0,736.0 L773.8,737.3 L772.7,738.5 L771.5,739.7 L770.3,740.8 L769.2,741.8 L768.0,742.7 L766.8,743.5 L765.7,744.1 L764.5,744.6 L763.3,745.0 L762.2,745.1 L761.0,745.1 L759.8,745.1 L758.6,745.0 L757.4,744.6 L756.2,744.1 L755.0,743.5 L753.8,742.7 L752.5,741.8 L751.3,740.8 L750.1,739.7 L748.9,738.5 L747.7,737.3 L746.5,736.0 L745.3,734.7 L744.1,733.4 L742.9,732.2 L741.7,730.9 L740.5,729.8 L739.2,728.7 L738.0,727.7 L736.8,726.8 L735.6,726.0 L734.4,725.4 L733.2,724.9 L732.0,724.7 L731.0,724.7 L730.0,724.7 L729.0,724.7 L728.0,724.7 L727.0,724.7 L726.0,724.7 L718.7,724.9 L717.3,725.4 L716.0,726.0 L714.7,726.8 L713.3,727.7 L712.0,728.7 L710.7,729.8 L709.3,730.9 L708.0,732.2 L706.7,733.4 L705.3,734.7 L704.0,736.0 L702.7,737.3 L701.3,738.5 L700.0,739.7 L698.7,740.8 L697.3,741.8 L696.0,742.7 L694.7,743.5 L693.3,744.1 L692.0,744.6 L690.7,745.0 L689.3,745.1 L688.0,745.1 L686.9,745.1 L685.8,745.0 L684.8,744.6 L683.7,744.1 L682.6,743.5 L681.5,742.7 L680.4,741.8 L679.3,740.8 L678.2,739.7 L677.2,738.5 L676.1,737.3 L675.0,736.0 L673.9,734.7 L672.8,733.4 L671.8,732.2 L670.7,730.9 L669.6,729.8 L668.5,728.7 L667.4,727.7 L666.3,726.8 L665.2,726.0 L664.2,725.4 L663.1,724.9 L662.0,724.7 L661.0,724.7 L660.0,724.7 L659.0,724.7 L658.0,724.7 L657.0,724.7 L656.0,724.7 L648.5,724.9 L647.0,725.4 L645.5,726.0 L644.0,726.8 L642.5,727.7 L641.0,728.7 L639.5,729.8 L638.0,730.9 L636.5,732.2 L635.0,733.4 L633.5,734.7 L632.0,736.0 L630.5,737.3 L629.0,738.5 L627.5,739.7 L626.0,740.8 L624.5,741.8 L623.0,742.7 L621.5,743.5 L620.0,744.1 L618.5,744.6 L617.0,745.0 L615.5,745.1 L614.0,745.1 L613.1,745.1 L612.2,745.0 L611.2,744.6 L610.3,744.1 L609.4,743.5 L608.5,742.7 L607.6,741.8 L606.7,740.8 L605.8,739.7 L604.8,738.5 L603.9,737.3 L603.0,736.0 L602.1,734.7 L601.2,733.4 L600.2,732.2 L599.3,730.9 L598.4,729.8 L597.5,728.7 L596.6,727.7 L595.7,726.8 L594.8,726.0 L593.8,725.4 L592.9,724.9 L592.0,724.7 L591.0,724.7 L590.0,724.7 L589.0,724.7 L588.0,724.7 L587.0,724.7 L586.0,724.7 L578.5,724.9 L576.9,725.4 L575.4,726.0 L573.8,726.8 L572.3,727.7 L570.8,728.7 L569.2,729.8 L567.7,730.9 L566.1,732.2 L564.6,733.4 L563.0,734.7 L561.5,736.0 L560.0,737.3 L558.4,738.5 L556.9,739.7 L555.3,740.8 L553.8,741.8 L552.2,742.7 L550.7,743.5 L549.2,744.1 L547.6,744.6 L546.1,745.0 L544.5,745.1 L543.0,745.1 L542.0,745.1 L541.1,745.0 L540.1,744.6 L539.2,744.1 L538.2,743.5 L537.2,742.7 L536.3,741.8 L535.3,740.8 L534.4,739.7 L533.4,738.5 L532.5,737.3 L531.5,736.0 L530.5,734.7 L529.6,733.4 L528.6,732.2 L527.7,730.9 L526.7,729.8 L525.8,728.7 L524.8,727.7 L523.8,726.8 L522.9,726.0 L521.9,725.4 L521.0,724.9 L520.0,724.7 L519.0,724.7 L518.0,724.7 L517.0,724.7 L516.0,724.7 L515.0,724.7 L514.0,724.7 L506.5,724.9 L504.9,725.4 L503.4,726.0 L501.8,726.8 L500.3,727.7 L498.8,728.7 L497.2,729.8 L495.7,730.9 L494.1,732.2 L492.6,733.4 L491.0,734.7 L489.5,736.0 L488.0,737.3 L486.4,738.5 L484.9,739.7 L483.3,740.8 L481.8,741.8 L480.2,742.7 L478.7,743.5 L477.2,744.1 L475.6,744.6 L474.1,745.0 L472.5,745.1 L471.0,745.1 L469.9,745.1 L468.8,745.0 L467.6,744.6 L466.5,744.1 L465.4,743.5 L464.2,742.7 L463.1,741.8 L462.0,740.8 L460.9,739.7 L459.8,738.5 L458.6,737.3 L457.5,736.0 L456.4,734.7 L455.2,733.4 L454.1,732.2 L453.0,730.9 L451.9,729.8 L450.8,728.7 L449.6,727.7 L448.5,726.8 L447.4,726.0 L446.2,725.4 L445.1,724.9 L444.0,724.7 L443.0,724.7 L442.0,724.7 L441.0,724.7 L440.0,724.7 L439.0,724.7 L438.0,724.7 L430.6,724.9 L429.2,725.4 L427.8,726.0 L426.3,726.8 L424.9,727.7 L423.5,728.7 L422.1,729.8 L420.7,730.9 L419.2,732.2 L417.8,733.4 L416.4,734.7 L415.0,736.0 L413.6,737.3 L412.2,738.5 L410.8,739.7 L409.3,740.8 L407.9,741.8 L406.5,742.7 L405.1,743.5 L403.7,744.1 L402.2,744.6 L400.8,745.0 L399.4,745.1 L398.0,745.1 Z" fill="#f6f6f6" stroke="#111" stroke-width="0.9"/>
<path d="M398.0,723.1 L400.2,722.9 L402.3,722.9 L404.5,723.1 L406.7,723.5 L408.8,724.0 L411.0,724.7 L413.2,725.5 L415.3,726.5 L417.5,727.5 L419.7,728.6 L421.8,729.8 L424.0,731.1 L426.2,732.4 L428.3,733.7 L430.5,735.0 L432.7,736.3 L434.8,737.6 L437.0,738.8 L439.2,739.9 L441.3,740.9 L443.5,741.8 L445.7,742.5 L447.8,743.1 L450.0,743.5 L451.8,743.1 L453.6,742.5 L455.4,741.8 L457.2,740.9 L459.0,739.9 L460.8,738.8 L462.5,737.6 L464.3,736.3 L466.1,735.0 L467.9,733.7 L469.7,732.4 L471.5,731.1 L473.3,729.8 L475.1,728.6 L476.9,727.5 L478.7,726.5 L480.5,725.5 L482.2,724.7 L484.0,724.0 L485.8,723.5 L487.6,723.1 L489.4,722.9 L491.2,722.9 L493.0,723.1 L494.8,722.9 L496.6,722.9 L498.4,723.1 L500.2,723.5 L502.0,724.0 L503.8,724.7 L505.5,725.5 L507.3,726.5 L509.1,727.5 L510.9,728.6 L512.7,729.8 L514.5,731.1 L516.3,732.4 L518.1,733.7 L519.9,735.0 L521.7,736.3 L523.5,737.6 L525.2,738.8 L527.0,739.9 L528.8,740.9 L530.6,741.8 L532.4,742.5 L534.2,743.1 L536.0,743.5 L537.2,743.1 L538.3,742.5 L539.5,741.8 L540.7,740.9 L541.8,739.9 L543.0,738.8 L544.2,737.6 L545.3,736.3 L546.5,735.0 L547.7,733.7 L548.8,732.4 L550.0,731.1 L551.2,729.8 L552.3,728.6 L553.5,727.5 L554.7,726.5 L555.8,725.5 L557.0,724.7 L558.2,724.0 L559.3,723.5 L560.5,723.1 L561.7,722.9 L562.8,722.9 L564.0,723.1 L565.8,722.9 L567.6,722.9 L569.4,723.1 L571.2,723.5 L573.0,724.0 L574.8,724.7 L576.5,725.5 L578.3,726.5 L580.1,727.5 L581.9,728.6 L583.7,729.8 L585.5,731.1 L587.3,732.4 L589.1,733.7 L590.9,735.0 L592.7,736.3 L594.5,737.6 L596.2,738.8 L598.0,739.9 L599.8,740.9 L601.6,741.8 L603.4,742.5 L605.2,743.1 L607.0,743.5 L608.2,743.1 L609.4,742.5 L610.6,741.8 L611.8,740.9 L613.0,739.9 L614.2,738.8 L615.5,737.6 L616.7,736.3 L617.9,735.0 L619.1,733.7 L620.3,732.4 L621.5,731.1 L622.7,729.8 L623.9,728.6 L625.1,727.5 L626.3,726.5 L627.5,725.5 L628.8,724.7 L630.0,724.0 L631.2,723.5 L632.4,723.1 L633.6,722.9 L634.8,722.9 L636.0,723.1 L637.9,722.9 L639.8,722.9 L641.6,723.1 L643.5,723.5 L645.4,724.0 L647.2,724.7 L649.1,725.5 L651.0,726.5 L652.9,727.5 L654.8,728.6 L656.6,729.8 L658.5,731.1 L660.4,732.4 L662.2,733.7 L664.1,735.0 L666.0,736.3 L667.9,737.6 L669.8,738.8 L671.6,739.9 L673.5,740.9 L675.4,741.8 L677.2,742.5 L679.1,743.1 L681.0,743.5 L681.8,743.1 L682.7,742.5 L683.5,741.8 L684.3,740.9 L685.2,739.9 L686.0,738.8 L686.8,737.6 L687.7,736.3 L688.5,735.0 L689.3,733.7 L690.2,732.4 L691.0,731.1 L691.8,729.8 L692.7,728.6 L693.5,727.5 L694.3,726.5 L695.2,725.5 L696.0,724.7 L696.8,724.0 L697.7,723.5 L698.5,723.1 L699.3,722.9 L700.2,722.9 L701.0,723.1 L701.0,724.5 L700.2,724.9 L699.3,725.5 L698.5,726.2 L697.7,727.1 L696.8,728.1 L696.0,729.2 L695.2,730.4 L694.3,731.7 L693.5,733.0 L692.7,734.3 L691.8,735.6 L691.0,736.9 L690.2,738.2 L689.3,739.4 L688.5,740.5 L687.7,741.5 L686.8,742.5 L686.0,743.3 L685.2,744.0 L684.3,744.5 L683.5,744.9 L682.7,745.1 L681.8,745.1 L681.0,744.9 L679.1,745.1 L677.2,745.1 L675.4,744.9 L673.5,744.5 L671.6,744.0 L669.8,743.3 L667.9,742.5 L666.0,741.5 L664.1,740.5 L662.2,739.4 L660.4,738.2 L658.5,736.9 L656.6,735.6 L654.8,734.3 L652.9,733.0 L651.0,731.7 L649.1,730.4 L647.2,729.2 L645.4,728.1 L643.5,727.1 L641.6,726.2 L639.8,725.5 L637.9,724.9 L636.0,724.5 L634.8,724.9 L633.6,725.5 L632.4,726.2 L631.2,727.1 L630.0,728.1 L628.8,729.2 L627.5,730.4 L626.3,731.7 L625.1,733.0 L623.9,734.3 L622.7,735.6 L621.5,736.9 L620.3,738.2 L619.1,739.4 L617.9,740.5 L616.7,741.5 L615.5,742.5 L614.2,743.3 L613.0,744.0 L611.8,744.5 L610.6,744.9 L609.4,745.1 L608.2,745.1 L607.0,744.9 L605.2,745.1 L603.4,745.1 L601.6,744.9 L599.8,744.5 L598.0,744.0 L596.2,743.3 L594.5,742.5 L592.7,741.5 L590.9,740.5 L589.1,739.4 L587.3,738.2 L585.5,736.9 L583.7,735.6 L581.9,734.3 L580.1,733.0 L578.3,731.7 L576.5,730.4 L574.8,729.2 L573.0,728.1 L571.2,727.1 L569.4,726.2 L567.6,725.5 L565.8,724.9 L564.0,724.5 L562.8,724.9 L561.7,725.5 L560.5,726.2 L559.3,727.1 L558.2,728.1 L557.0,729.2 L555.8,730.4 L554.7,731.7 L553.5,733.0 L552.3,734.3 L551.2,735.6 L550.0,736.9 L548.8,738.2 L547.7,739.4 L546.5,740.5 L545.3,741.5 L544.2,742.5 L543.0,743.3 L541.8,744.0 L540.7,744.5 L539.5,744.9 L538.3,745.1 L537.2,745.1 L536.0,744.9 L534.2,745.1 L532.4,745.1 L530.6,744.9 L528.8,744.5 L527.0,744.0 L525.2,743.3 L523.5,742.5 L521.7,741.5 L519.9,740.5 L518.1,739.4 L516.3,738.2 L514.5,736.9 L512.7,735.6 L510.9,734.3 L509.1,733.0 L507.3,731.7 L505.5,730.4 L503.8,729.2 L502.0,728.1 L500.2,727.1 L498.4,726.2 L496.6,725.5 L494.8,724.9 L493.0,724.5 L491.2,724.9 L489.4,725.5 L487.6,726.2 L485.8,727.1 L484.0,728.1 L482.2,729.2 L480.5,730.4 L478.7,731.7 L476.9,733.0 L475.1,734.3 L473.3,735.6 L471.5,736.9 L469.7,738.2 L467.9,739.4 L466.1,740.5 L464.3,741.5 L462.5,742.5 L460.8,743.3 L459.0,744.0 L457.2,744.5 L455.4,744.9 L453.6,745.1 L451.8,745.1 L450.0,744.9 L447.8,745.1 L445.7,745.1 L443.5,744.9 L441.3,744.5 L439.2,744.0 L437.0,743.3 L434.8,742.5 L432.7,741.5 L430.5,740.5 L428.3,739.4 L426.2,738.2 L424.0,736.9 L421.8,735.6 L419.7,734.3 L417.5,733.0 L415.3,731.7 L413.2,730.4 L411.0,729.2 L408.8,728.1 L406.7,727.1 L404.5,726.2 L402.3,725.5 L400.2,724.9 L398.0,724.5 Z" fill="#000"/>
<path d="M695.0,723.1 L697.0,722.9 L699.1,722.9 L701.1,723.1 L703.2,723.5 L705.2,724.0 L707.2,724.7 L709.3,725.5 L711.3,726.5 L713.4,727.5 L715.4,728.6 L717.5,729.8 L719.5,731.1 L721.5,732.4 L723.6,733.7 L725.6,735.0 L727.7,736.3 L729.7,737.6 L731.8,738.8 L733.8,739.9 L735.8,740.9 L737.9,741.8 L739.9,742.5 L742.0,743.1 L744.0,743.5 L745.5,743.1 L746.9,742.5 L748.4,741.8 L749.8,740.9 L751.3,739.9 L752.8,738.8 L754.2,737.6 L755.7,736.3 L757.1,735.0 L758.6,733.7 L760.0,732.4 L761.5,731.1 L763.0,729.8 L764.4,728.6 L765.9,727.5 L767.3,726.5 L768.8,725.5 L770.2,724.7 L771.7,724.0 L773.2,723.5 L774.6,723.1 L776.1,722.9 L777.5,722.9 L779.0,723.1 L780.3,722.9 L781.7,722.9 L783.0,723.1 L784.3,723.5 L785.7,724.0 L787.0,724.7 L788.3,725.5 L789.7,726.5 L791.0,727.5 L792.3,728.6 L793.7,729.8 L795.0,731.1 L796.3,732.4 L797.7,733.7 L799.0,735.0 L800.3,736.3 L801.7,737.6 L803.0,738.8 L804.3,739.9 L805.7,740.9 L807.0,741.8 L808.3,742.5 L809.7,743.1 L811.0,743.5 L812.3,743.1 L813.6,742.5 L814.9,741.8 L816.2,740.9 L817.5,739.9 L818.8,738.8 L820.0,737.6 L821.3,736.3 L822.6,735.0 L823.9,733.7 L825.2,732.4 L826.5,731.1 L827.8,729.8 L829.1,728.6 L830.4,727.5 L831.7,726.5 L833.0,725.5 L834.2,724.7 L835.5,724.0 L836.8,723.5 L838.1,723.1 L839.4,722.9 L840.7,722.9 L842.0,723.1 L843.5,722.9 L844.9,722.9 L846.4,723.1 L847.8,723.5 L849.3,724.0 L850.8,724.7 L852.2,725.5 L853.7,726.5 L855.1,727.5 L856.6,728.6 L858.0,729.8 L859.5,731.1 L861.0,732.4 L862.4,733.7 L863.9,735.0 L865.3,736.3 L866.8,737.6 L868.2,738.8 L869.7,739.9 L871.2,740.9 L872.6,741.8 L874.1,742.5 L875.5,743.1 L877.0,743.5 L878.2,743.1 L879.3,742.5 L880.5,741.8 L881.7,740.9 L882.8,739.9 L884.0,738.8 L885.2,737.6 L886.3,736.3 L887.5,735.0 L888.7,733.7 L889.8,732.4 L891.0,731.1 L892.2,729.8 L893.3,728.6 L894.5,727.5 L895.7,726.5 L896.8,725.5 L898.0,724.7 L899.2,724.0 L900.3,723.5 L901.5,723.1 L902.7,722.9 L903.8,722.9 L905.0,723.1 L906.5,722.9 L907.9,722.9 L909.4,723.1 L910.8,723.5 L912.3,724.0 L913.8,724.7 L915.2,725.5 L916.7,726.5 L918.1,727.5 L919.6,728.6 L921.0,729.8 L922.5,731.1 L924.0,732.4 L925.4,733.7 L926.9,735.0 L928.3,736.3 L929.8,737.6 L931.2,738.8 L932.7,739.9 L934.2,740.9 L935.6,741.8 L937.1,742.5 L938.5,743.1 L940.0,743.5 L941.2,743.1 L942.3,742.5 L943.5,741.8 L944.7,740.9 L945.8,739.9 L947.0,738.8 L948.2,737.6 L949.3,736.3 L950.5,735.0 L951.7,733.7 L952.8,732.4 L954.0,731.1 L955.2,729.8 L956.3,728.6 L957.5,727.5 L958.7,726.5 L959.8,725.5 L961.0,724.7 L962.2,724.0 L963.3,723.5 L964.5,723.1 L965.7,722.9 L966.8,722.9 L968.0,723.1 L968.0,724.5 L966.8,724.9 L965.7,725.5 L964.5,726.2 L963.3,727.1 L962.2,728.1 L961.0,729.2 L959.8,730.4 L958.7,731.7 L957.5,733.0 L956.3,734.3 L955.2,735.6 L954.0,736.9 L952.8,738.2 L951.7,739.4 L950.5,740.5 L949.3,741.5 L948.2,742.5 L947.0,743.3 L945.8,744.0 L944.7,744.5 L943.5,744.9 L942.3,745.1 L941.2,745.1 L940.0,744.9 L938.5,745.1 L937.1,745.1 L935.6,744.9 L934.2,744.5 L932.7,744.0 L931.2,743.3 L929.8,742.5 L928.3,741.5 L926.9,740.5 L925.4,739.4 L924.0,738.2 L922.5,736.9 L921.0,735.6 L919.6,734.3 L918.1,733.0 L916.7,731.7 L915.2,730.4 L913.8,729.2 L912.3,728.1 L910.8,727.1 L909.4,726.2 L907.9,725.5 L906.5,724.9 L905.0,724.5 L903.8,724.9 L902.7,725.5 L901.5,726.2 L900.3,727.1 L899.2,728.1 L898.0,729.2 L896.8,730.4 L895.7,731.7 L894.5,733.0 L893.3,734.3 L892.2,735.6 L891.0,736.9 L889.8,738.2 L888.7,739.4 L887.5,740.5 L886.3,741.5 L885.2,742.5 L884.0,743.3 L882.8,744.0 L881.7,744.5 L880.5,744.9 L879.3,745.1 L878.2,745.1 L877.0,744.9 L875.5,745.1 L874.1,745.1 L872.6,744.9 L871.2,744.5 L869.7,744.0 L868.2,743.3 L866.8,742.5 L865.3,741.5 L863.9,740.5 L862.4,739.4 L861.0,738.2 L859.5,736.9 L858.0,735.6 L856.6,734.3 L855.1,733.0 L853.7,731.7 L852.2,730.4 L850.8,729.2 L849.3,728.1 L847.8,727.1 L846.4,726.2 L844.9,725.5 L843.5,724.9 L842.0,724.5 L840.7,724.9 L839.4,725.5 L838.1,726.2 L836.8,727.1 L835.5,728.1 L834.2,729.2 L833.0,730.4 L831.7,731.7 L830.4,733.0 L829.1,734.3 L827.8,735.6 L826.5,736.9 L825.2,738.2 L823.9,739.4 L822.6,740.5 L821.3,741.5 L820.0,742.5 L818.8,743.3 L817.5,744.0 L816.2,744.5 L814.9,744.9 L813.6,745.1 L812.3,745.1 L811.0,744.9 L809.7,745.1 L808.3,745.1 L807.0,744.9 L805.7,744.5 L804.3,744.0 L803.0,743.3 L801.7,742.5 L800.3,741.5 L799.0,740.5 L797.7,739.4 L796.3,738.2 L795.0,736.9 L793.7,735.6 L792.3,734.3 L791.0,733.0 L789.7,731.7 L788.3,730.4 L787.0,729.2 L785.7,728.1 L784.3,727.1 L783.0,726.2 L781.7,725.5 L780.3,724.9 L779.0,724.5 L777.5,724.9 L776.1,725.5 L774.6,726.2 L773.2,727.1 L771.7,728.1 L770.2,729.2 L768.8,730.4 L767.3,731.7 L765.9,733.0 L764.4,734.3 L763.0,735.6 L761.5,736.9 L760.0,738.2 L758.6,739.4 L757.1,740.5 L755.7,741.5 L754.2,742.5 L752.8,743.3 L751.3,744.0 L749.8,744.5 L748.4,744.9 L746.9,745.1 L745.5,745.1 L744.0,744.9 L742.0,745.1 L739.9,745.1 L737.9,744.9 L735.8,744.5 L733.8,744.0 L731.8,743.3 L729.7,742.5 L727.7,741.5 L725.6,740.5 L723.6,739.4 L721.5,738.2 L719.5,736.9 L717.5,735.6 L715.4,734.3 L713.4,733.0 L711.3,731.7 L709.3,730.4 L707.2,729.2 L705.2,728.1 L703.2,727.1 L701.1,726.2 L699.1,725.5 L697.0,724.9 L695.0,724.5 Z" fill="#000"/>
<path d="M437.0,723.2 L438.2,723.1 L439.4,723.1 L440.6,723.4 L441.8,723.8 L443.0,724.4 L444.2,725.1 L445.5,726.0 L446.7,726.9 L447.9,728.0 L449.1,729.1 L450.3,730.3 L451.5,731.6 L452.7,732.9 L453.9,734.2 L455.1,735.5 L456.3,736.8 L457.5,738.0 L458.8,739.1 L460.0,740.2 L461.2,741.2 L462.4,742.0 L463.6,742.7 L464.8,743.3 L466.0,743.6 L466.0,744.8 L464.8,744.9 L463.6,744.9 L462.4,744.6 L461.2,744.2 L460.0,743.6 L458.8,742.9 L457.5,742.0 L456.3,741.1 L455.1,740.0 L453.9,738.9 L452.7,737.7 L451.5,736.4 L450.3,735.1 L449.1,733.8 L447.9,732.5 L446.7,731.2 L445.5,730.0 L444.2,728.9 L443.0,727.8 L441.8,726.8 L440.6,726.0 L439.4,725.3 L438.2,724.7 L437.0,724.4 Z" fill="#000"/>
<line x1="473.6" y1="732.5" x2="473.6" y2="740.5" stroke="#000" stroke-width="2"/>
<line x1="484.4" y1="725.9" x2="484.4" y2="733.9" stroke="#000" stroke-width="2"/>
<line x1="501.6" y1="725.9" x2="501.6" y2="733.9" stroke="#000" stroke-width="2"/>
<line x1="510.2" y1="731.0" x2="510.2" y2="739.0" stroke="#000" stroke-width="2"/>
<line x1="518.8" y1="737.0" x2="518.8" y2="743.7" stroke="#000" stroke-width="2"/>
<line x1="551.4" y1="732.5" x2="551.4" y2="740.5" stroke="#000" stroke-width="2"/>
<line x1="558.4" y1="725.9" x2="558.4" y2="733.9" stroke="#000" stroke-width="2"/>
<line x1="572.6" y1="725.9" x2="572.6" y2="733.9" stroke="#000" stroke-width="2"/>
<line x1="581.2" y1="731.0" x2="581.2" y2="739.0" stroke="#000" stroke-width="2"/>
<line x1="589.8" y1="737.0" x2="589.8" y2="743.7" stroke="#000" stroke-width="2"/>
<line x1="623.0" y1="732.5" x2="623.0" y2="740.5" stroke="#000" stroke-width="2"/>
<line x1="630.2" y1="725.9" x2="630.2" y2="733.9" stroke="#000" stroke-width="2"/>
<line x1="645.0" y1="725.9" x2="645.0" y2="733.9" stroke="#000" stroke-width="2"/>
<line x1="654.0" y1="731.0" x2="654.0" y2="739.0" stroke="#000" stroke-width="2"/>
<line x1="663.0" y1="737.0" x2="663.0" y2="743.7" stroke="#000" stroke-width="2"/>
<line x1="692.0" y1="732.5" x2="692.0" y2="740.5" stroke="#000" stroke-width="2"/>
<line x1="697.0" y1="725.9" x2="697.0" y2="733.9" stroke="#000" stroke-width="2"/>
<line x1="704.8" y1="725.9" x2="704.8" y2="733.9" stroke="#000" stroke-width="2"/>
<line x1="714.6" y1="731.0" x2="714.6" y2="739.0" stroke="#000" stroke-width="2"/>
<line x1="724.4" y1="737.0" x2="724.4" y2="743.7" stroke="#000" stroke-width="2"/>
<line x1="763.2" y1="732.5" x2="763.2" y2="740.5" stroke="#000" stroke-width="2"/>
<line x1="772.0" y1="725.9" x2="772.0" y2="733.9" stroke="#000" stroke-width="2"/>
<line x1="785.4" y1="725.9" x2="785.4" y2="733.9" stroke="#000" stroke-width="2"/>
<line x1="791.8" y1="731.0" x2="791.8" y2="739.0" stroke="#000" stroke-width="2"/>
<line x1="798.2" y1="737.0" x2="798.2" y2="743.7" stroke="#000" stroke-width="2"/>
<line x1="828.0" y1="732.5" x2="828.0" y2="740.5" stroke="#000" stroke-width="2"/>
<line x1="835.8" y1="725.9" x2="835.8" y2="733.9" stroke="#000" stroke-width="2"/>
<line x1="849.0" y1="725.9" x2="849.0" y2="733.9" stroke="#000" stroke-width="2"/>
<line x1="856.0" y1="731.0" x2="856.0" y2="739.0" stroke="#000" stroke-width="2"/>
<line x1="863.0" y1="737.0" x2="863.0" y2="743.7" stroke="#000" stroke-width="2"/>
<line x1="892.4" y1="732.5" x2="892.4" y2="740.5" stroke="#000" stroke-width="2"/>
<line x1="899.4" y1="725.9" x2="899.4" y2="733.9" stroke="#000" stroke-width="2"/>
<line x1="912.0" y1="725.9" x2="912.0" y2="733.9" stroke="#000" stroke-width="2"/>
<line x1="919.0" y1="731.0" x2="919.0" y2="739.0" stroke="#000" stroke-width="2"/>
<line x1="926.0" y1="737.0" x2="926.0" y2="743.7" stroke="#000" stroke-width="2"/>
<line x1="955.4" y1="732.5" x2="955.4" y2="740.5" stroke="#000" stroke-width="2"/>
<line x1="962.4" y1="725.9" x2="962.4" y2="733.9" stroke="#000" stroke-width="2"/>
<line x1="411" y1="726" x2="411" y2="732" stroke="#000" stroke-width="2"/>
<line x1="418" y1="729" x2="418" y2="736" stroke="#000" stroke-width="2"/>
<line x1="425" y1="733" x2="425" y2="740" stroke="#000" stroke-width="2"/>
</g>
<path d="M6,1 L1,10 M4,8 L16,8 M0,16 L17,16 M9,3 L9,16 Q8,24 1,29 M10,19 L17,27 M20,7 L32,7 L32,25 L20,25 Z" transform="translate(901.4,697.9)" fill="none" stroke="#b2b2b2" stroke-width="3.4" stroke-linecap="round" stroke-linejoin="round"/>
<path d="M6,1 L1,10 M4,8 L16,8 M0,16 L17,16 M9,3 L9,16 Q8,24 1,29 M10,19 L17,27 M20,7 L32,7 L32,25 L20,25 Z" transform="translate(901,697.5)" fill="none" stroke="#e2e2e2" stroke-width="1.4" stroke-linecap="round" stroke-linejoin="round"/>
<path d="M27,1 Q16,4 5,4 M8,8 L11,13 M24,8 L20,13 M1,16 L30,16 M16,5 L16,27 Q16,29 12,27" transform="translate(936.9,697.9)" fill="none" stroke="#b2b2b2" stroke-width="3.4" stroke-linecap="round" stroke-linejoin="round"/>
<path d="M27,1 Q16,4 5,4 M8,8 L11,13 M24,8 L20,13 M1,16 L30,16 M16,5 L16,27 Q16,29 12,27" transform="translate(936.5,697.5)" fill="none" stroke="#e2e2e2" stroke-width="1.4" stroke-linecap="round" stroke-linejoin="round"/>
<path d="M2,2 L2,29 M2,2 L10,2 L6,10 Q11,15 8,20 L5,20 M17,1 L13,8 M15,5 L28,5 L28,28 L25,27 M19,9 L16,13 M17,12 L26,12 M15,17 L27,17 M21,9 L21,25 M16,20 L16,25 L26,25 L26,20" transform="translate(1013.4,697.9)" fill="none" stroke="#b2b2b2" stroke-width="3.4" stroke-linecap="round" stroke-linejoin="round"/>
<path d="M2,2 L2,29 M2,2 L10,2 L6,10 Q11,15 8,20 L5,20 M17,1 L13,8 M15,5 L28,5 L28,28 L25,27 M19,9 L16,13 M17,12 L26,12 M15,17 L27,17 M21,9 L21,25 M16,20 L16,25 L26,25 L26,20" transform="translate(1013,697.5)" fill="none" stroke="#e2e2e2" stroke-width="1.4" stroke-linecap="round" stroke-linejoin="round"/>
<path d="M1,9 L27,9 M14,1 L14,29 M13,11 Q8,20 1,25 M15,11 Q20,20 27,25 M19,3 L22,6" transform="translate(1045.4,697.9)" fill="none" stroke="#b2b2b2" stroke-width="3.4" stroke-linecap="round" stroke-linejoin="round"/>
<path d="M1,9 L27,9 M14,1 L14,29 M13,11 Q8,20 1,25 M15,11 Q20,20 27,25 M19,3 L22,6" transform="translate(1045,697.5)" fill="none" stroke="#e2e2e2" stroke-width="1.4" stroke-linecap="round" stroke-linejoin="round"/>
<text x="981" y="719.5" font-family="Liberation Sans" font-size="29" fill="#e2e2e2" stroke="#b2b2b2" stroke-width="2.2" paint-order="stroke">@</text>
<g font-family="Liberation Serif, serif" font-size="25" fill="#151515">
<text x="556.5" y="46.1" text-anchor="start" >Mitogens/</text>
<text x="570.3" y="76.9" text-anchor="start" >Growth</text>
<text x="573.9" y="107.4" text-anchor="start" >factors</text>
<text x="202.4" y="97" text-anchor="start" >Plasma membrane</text>
<text x="176.9" y="250.2" text-anchor="start" >MAP4K</text>
<text x="175" y="308.7" text-anchor="start" >MAP3K</text>
<text x="174.3" y="374.6" text-anchor="start" >MAPKK</text>
<text x="174" y="449.4" text-anchor="start" >MAPK</text>
<text x="151.9" y="509.5" text-anchor="start" >MAPKAPK</text>
<text x="144.7" y="547.5" text-anchor="start" >Nuclear envelope</text>
<text transform="translate(157.6,407.4) rotate(-90)">Cytoplasm</text>
<text x="290.3" y="386.2" text-anchor="start" >Three tier cascade</text>
<text x="584" y="236.6" text-anchor="start" >Ras</text>
<text x="552.4" y="296.1" text-anchor="start" >A/B/C-Raf</text>
<text x="541.2" y="364.3" text-anchor="start" >MEK1/2/1b</text>
<text x="542.6" y="434.1" text-anchor="start" >ERK1/2/1c</text>
<text x="690.3" y="441.6" text-anchor="start" >RSKs</text>
<text x="684.3" y="478.1" text-anchor="start" >MSKs</text>
<text x="679" y="515" text-anchor="start" >MNKs</text>
<text x="677.6" y="548.9" text-anchor="start" >cPLA2</text>
<text x="402" y="508.8" text-anchor="start" >Cytoplasmic</text>
<text x="430" y="538.7" text-anchor="start" >Targets</text>
<text x="168.3" y="654.7" text-anchor="start" >Nucleus</text>
<text x="525" y="655.5" text-anchor="start" >c-FOS</text>
<text x="629.8" y="652.9" text-anchor="start" >Elk1</text>
<text x="533" y="705.4" text-anchor="start" >Ets1</text>
<text x="627.8" y="704.8" text-anchor="start" >SP-1</text>
<text x="753.8" y="659.6" text-anchor="start" >Transcription</text>
<text x="788.6" y="689.8" text-anchor="start" >factors</text>
<text x="334.1" y="745" text-anchor="start" >DNA</text>
</g>
</svg></body></html>
